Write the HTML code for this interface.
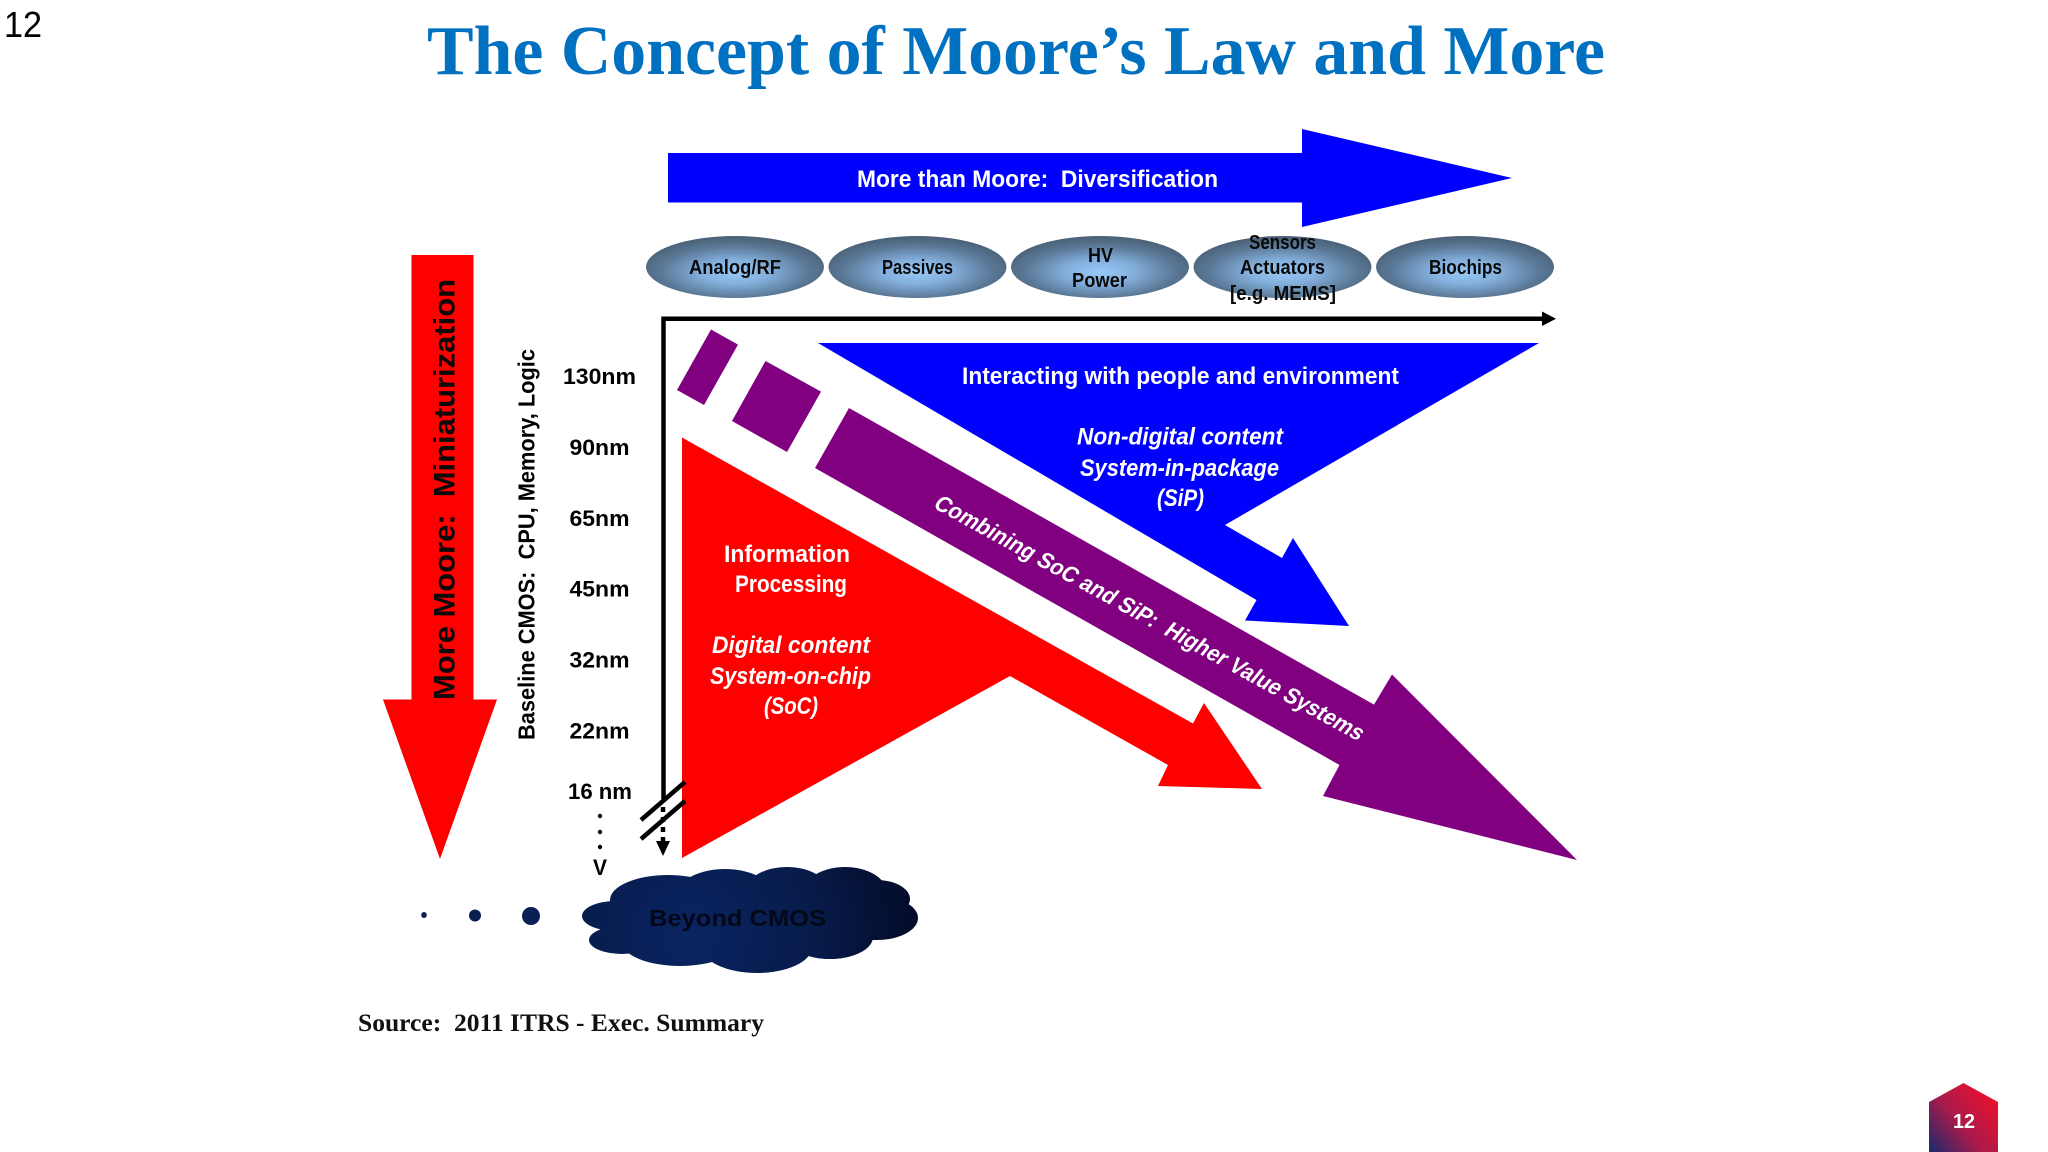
<!DOCTYPE html>
<html>
<head>
<meta charset="utf-8">
<title>The Concept of Moore's Law and More</title>
<style>
html,body{margin:0;padding:0;background:#fff;width:2048px;height:1152px;overflow:hidden}
svg{display:block}
text{font-family:"Liberation Sans",sans-serif;font-weight:bold;white-space:pre}
.w{fill:#fff;font-size:24px}
.wi{fill:#fff;font-size:24px;font-style:italic}
.k{fill:#0a0a0a;font-size:20px}
.n{fill:#000;font-size:22.5px}
</style>
</head>
<body>
<svg xmlns="http://www.w3.org/2000/svg" width="2048" height="1152" viewBox="0 0 2048 1152">
<defs>
<radialGradient id="eg" cx="0.5" cy="0.58" r="0.56">
<stop offset="0" stop-color="#97c9f7"/>
<stop offset="0.35" stop-color="#83afdc"/>
<stop offset="0.75" stop-color="#5a7896"/>
<stop offset="1" stop-color="#4b6278"/>
</radialGradient>
<radialGradient id="cg" gradientUnits="userSpaceOnUse" cx="690" cy="935" r="235">
<stop offset="0" stop-color="#0a2462"/>
<stop offset="0.5" stop-color="#081c4c"/>
<stop offset="1" stop-color="#030a26"/>
</radialGradient>
<linearGradient id="bg" gradientUnits="userSpaceOnUse" x1="1929" y1="1150" x2="1998" y2="1095">
<stop offset="0" stop-color="#1c2a6b"/>
<stop offset="0.45" stop-color="#a81a4c"/>
<stop offset="1" stop-color="#f2102a"/>
</linearGradient>
</defs>

<text x="4" y="37" style="font-weight:normal;font-size:36px" fill="#000" textLength="38" lengthAdjust="spacingAndGlyphs">12</text>
<text x="427" y="74" style="font-family:'Liberation Serif',serif;font-size:70px" fill="#0070c0" textLength="1178" lengthAdjust="spacingAndGlyphs">The Concept of Moore’s Law and More</text>

<!-- top blue arrow -->
<polygon points="668,153 1302,153 1302,129 1512,178 1302,227 1302,202.5 668,202.5" fill="#0000ff"/>
<text class="w" x="857" y="187" textLength="361" lengthAdjust="spacingAndGlyphs">More than Moore:  Diversification</text>

<!-- ellipses -->
<ellipse cx="735" cy="267" rx="89" ry="31" fill="url(#eg)"/>
<ellipse cx="917.5" cy="267" rx="89" ry="31" fill="url(#eg)"/>
<ellipse cx="1100" cy="267" rx="89" ry="31" fill="url(#eg)"/>
<ellipse cx="1282.5" cy="267" rx="89" ry="31" fill="url(#eg)"/>
<ellipse cx="1465" cy="267" rx="89" ry="31" fill="url(#eg)"/>
<text class="k" x="689" y="274" textLength="92" lengthAdjust="spacingAndGlyphs">Analog/RF</text>
<text class="k" x="882" y="274" textLength="71" lengthAdjust="spacingAndGlyphs">Passives</text>
<text class="k" x="1088" y="262" textLength="25" lengthAdjust="spacingAndGlyphs">HV</text>
<text class="k" x="1072" y="287" textLength="55" lengthAdjust="spacingAndGlyphs">Power</text>
<text class="k" x="1249" y="249" textLength="67" lengthAdjust="spacingAndGlyphs">Sensors</text>
<text class="k" x="1240" y="274" textLength="85" lengthAdjust="spacingAndGlyphs">Actuators</text>
<text class="k" x="1230" y="300" textLength="106" lengthAdjust="spacingAndGlyphs">[e.g. MEMS]</text>
<text class="k" x="1429" y="274" textLength="73" lengthAdjust="spacingAndGlyphs">Biochips</text>

<!-- axes -->
<path d="M1545,318.7 H663.5 V799" fill="none" stroke="#000" stroke-width="4.5"/>
<polygon points="1542,311.5 1556,318.7 1542,326" fill="#000"/>
<line x1="663" y1="807" x2="663" y2="843" stroke="#000" stroke-width="4.5" stroke-dasharray="5 5"/>
<polygon points="656,841 670,841 663,856" fill="#000"/>

<!-- red -->
<polygon points="682,437.5 1193,723.5 1204,703 1262,789 1158,786 1168,765 1010,676 682,858" fill="#ff0000"/>
<line x1="641" y1="820" x2="685" y2="782" stroke="#000" stroke-width="4.5"/>
<line x1="641" y1="839" x2="685" y2="801" stroke="#000" stroke-width="4.5"/>

<!-- blue -->
<polygon points="818,343 1539,343 1225,525 1282,558 1293,538 1349,626 1245,620.5 1256.5,600" fill="#0000ff"/>

<!-- purple -->
<g fill="#800080">
<polygon points="711,329.5 738,344.6 704,405 677,390"/>
<polygon points="765.5,361 821,391.6 787,452 732,421"/>
<polygon points="849,408 1374,704.6 1392,674.5 1577,860 1323,796 1339.5,765 815,468"/>
</g>

<!-- red down arrow -->
<polygon points="411.5,255 473.5,255 473.5,699.5 497,699.5 440,859 383,699.5 411.5,699.5" fill="#ff0000"/>
<text transform="translate(454.5,700) rotate(-90)" x="0" y="0" style="font-size:30px" fill="#0a0a0a" textLength="421" lengthAdjust="spacingAndGlyphs">More Moore:  Miniaturization</text>
<text transform="translate(534.5,740) rotate(-90)" x="0" y="0" style="font-size:23px" fill="#000" textLength="391" lengthAdjust="spacingAndGlyphs">Baseline CMOS:  CPU, Memory, Logic</text>

<!-- nm labels -->
<text class="n" x="563" y="384" textLength="73" lengthAdjust="spacingAndGlyphs">130nm</text>
<text class="n" x="569.5" y="455" textLength="60" lengthAdjust="spacingAndGlyphs">90nm</text>
<text class="n" x="569.5" y="526" textLength="60" lengthAdjust="spacingAndGlyphs">65nm</text>
<text class="n" x="569.5" y="596.5" textLength="60" lengthAdjust="spacingAndGlyphs">45nm</text>
<text class="n" x="569.5" y="667.5" textLength="60" lengthAdjust="spacingAndGlyphs">32nm</text>
<text class="n" x="569.5" y="738.5" textLength="60" lengthAdjust="spacingAndGlyphs">22nm</text>
<text class="n" x="568" y="799" textLength="64" lengthAdjust="spacingAndGlyphs">16 nm</text>
<circle cx="600" cy="816" r="2.2" fill="#000"/>
<circle cx="600" cy="832" r="2.2" fill="#000"/>
<circle cx="600" cy="847" r="2.2" fill="#000"/>
<text class="n" x="593" y="875" textLength="14" lengthAdjust="spacingAndGlyphs">V</text>

<!-- blue text -->
<text class="w" x="962" y="384" textLength="437" lengthAdjust="spacingAndGlyphs">Interacting with people and environment</text>
<text class="wi" x="1077" y="444.5" textLength="206" lengthAdjust="spacingAndGlyphs">Non-digital content</text>
<text class="wi" x="1080" y="476" textLength="199" lengthAdjust="spacingAndGlyphs">System-in-package</text>
<text class="wi" x="1157" y="506" textLength="47" lengthAdjust="spacingAndGlyphs">(SiP)</text>

<!-- red text -->
<text class="w" x="724" y="562" textLength="126" lengthAdjust="spacingAndGlyphs">Information</text>
<text class="w" x="735" y="592" textLength="112" lengthAdjust="spacingAndGlyphs">Processing</text>
<text class="wi" x="712" y="653" textLength="158" lengthAdjust="spacingAndGlyphs">Digital content</text>
<text class="wi" x="710" y="684" textLength="161" lengthAdjust="spacingAndGlyphs">System-on-chip</text>
<text class="wi" x="764" y="714" textLength="54" lengthAdjust="spacingAndGlyphs">(SoC)</text>

<!-- purple text -->
<text transform="translate(932,507) rotate(28.8) skewX(-10)" x="0" y="0" style="font-size:23px" fill="#fff" textLength="486" lengthAdjust="spacingAndGlyphs">Combining SoC and SiP:  Higher Value Systems</text>

<!-- dots + cloud -->
<ellipse cx="424" cy="915" rx="2.8" ry="3" fill="#0a1f52"/>
<ellipse cx="475" cy="915.5" rx="6" ry="6" fill="#0a1f52"/>
<ellipse cx="531" cy="916" rx="9" ry="9" fill="#0a1f52"/>
<g fill="url(#cg)">
<ellipse cx="668" cy="900" rx="58" ry="25"/>
<ellipse cx="725" cy="895" rx="48" ry="26"/>
<ellipse cx="787" cy="892" rx="42" ry="25"/>
<ellipse cx="845" cy="893" rx="42" ry="26"/>
<ellipse cx="877" cy="899" rx="33" ry="19"/>
<ellipse cx="877" cy="918" rx="41" ry="22"/>
<ellipse cx="830" cy="937" rx="43" ry="22"/>
<ellipse cx="757" cy="947" rx="55" ry="26"/>
<ellipse cx="680" cy="942" rx="58" ry="24"/>
<ellipse cx="622" cy="940" rx="33" ry="14"/>
<ellipse cx="616" cy="916" rx="34" ry="15"/>
<ellipse cx="750" cy="920" rx="130" ry="40"/>
</g>
<text x="649" y="926" style="font-size:23px" fill="#030818" textLength="177" lengthAdjust="spacingAndGlyphs">Beyond CMOS</text>

<text x="358" y="1031" style="font-family:'Liberation Serif',serif;font-size:25px" fill="#111" textLength="406" lengthAdjust="spacingAndGlyphs">Source:  2011 ITRS - Exec. Summary</text>

<!-- badge -->
<polygon points="1929,1102 1963.5,1083 1998,1102 1998,1152 1929,1152" fill="url(#bg)"/>
<text x="1953" y="1128" style="font-size:20px" fill="#fff" textLength="22" lengthAdjust="spacingAndGlyphs">12</text>
</svg>
</body>
</html>
